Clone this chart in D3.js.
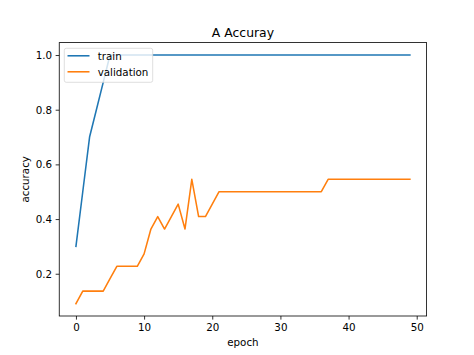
<!DOCTYPE html>
<html>
<head>
<meta charset="utf-8">
<script src="https://cdn.jsdelivr.net/npm/d3@7"></script>
<style>
  html, body { margin: 0; padding: 0; background: #fff; }
  svg { display: block; }
  text { font-family: "DejaVu Sans", sans-serif; fill: #000; }
</style>
</head>
<body>
<div id="chart"></div>
<script>
const epochs = d3.range(0, 50);
const trainAcc = [0.3, 0.5, 0.7, 0.8, 0.9].concat(d3.range(5, 50).map(() => 1.0));
const validationAcc = [
  0.0909, 0.1364, 0.1364, 0.1364, 0.1364, 0.1818, 0.2273, 0.2273, 0.2273, 0.2273,
  0.2727, 0.3636, 0.4091, 0.3636, 0.4091, 0.4545, 0.3636, 0.5455, 0.4091, 0.4091,
  0.4545, 0.5, 0.5, 0.5, 0.5, 0.5, 0.5, 0.5, 0.5, 0.5,
  0.5, 0.5, 0.5, 0.5, 0.5, 0.5, 0.5, 0.5455, 0.5455, 0.5455,
  0.5455, 0.5455, 0.5455, 0.5455, 0.5455, 0.5455, 0.5455, 0.5455, 0.5455, 0.5455
];
const xTicks = [0, 10, 20, 30, 40, 50];
const yTicks = [0.2, 0.4, 0.6, 0.8, 1.0];
const seriesNames = ["train", "validation"];
const seriesColors = ["#1f77b4", "#ff7f0e"];
const titleText = "A Accuray";
const xLabel = "epoch";
const yLabel = "accuracy";

const W = 474, H = 355;
const L = 59.25, R = 426.6, T = 42.6, B = 316;

const svg = d3.select("#chart").append("svg").attr("width", W).attr("height", H);

const all = trainAcc.concat(validationAcc);
const ymin = d3.min(all), ymax = d3.max(all);
const ypad = (ymax - ymin) * 0.05;
const xpad = 49 * 0.05;
const x = d3.scaleLinear().domain([0 - xpad, 49 + xpad]).range([L, R]);
const y = d3.scaleLinear().domain([ymin - ypad, ymax + ypad]).range([B, T]);

const line = d3.line().x((d, i) => x(epochs[i])).y(d => y(d));

const series = [trainAcc, validationAcc];
series.forEach((s, k) => {
  svg.append("path").datum(s)
    .attr("d", line)
    .attr("fill", "none")
    .attr("stroke", seriesColors[k])
    .attr("stroke-width", 1.55)
    .attr("stroke-linejoin", "round")
    .attr("stroke-linecap", "square");
});

// axes
const xAxis = d3.axisBottom(x).tickValues(xTicks).tickSize(3.6).tickPadding(3.6).tickFormat(d3.format("d"));
const yAxis = d3.axisLeft(y).tickValues(yTicks).tickSize(3.6).tickPadding(3.6).tickFormat(d3.format(".1f"));

const gx = svg.append("g").attr("transform", `translate(0,${B})`).call(xAxis);
const gy = svg.append("g").attr("transform", `translate(${L},0)`).call(yAxis);
[gx, gy].forEach(g => {
  g.select(".domain").remove();
  g.selectAll(".tick line").attr("stroke", "#000").attr("stroke-width", 0.8);
  g.selectAll(".tick text").style("font-family", "DejaVu Sans").style("font-size", "10.3px").attr("fill", "#000");
});

// spines
svg.append("rect").attr("x", L).attr("y", T).attr("width", R - L).attr("height", B - T)
  .attr("fill", "none").attr("stroke", "#000").attr("stroke-width", 0.8);

// title and labels
svg.append("text").attr("x", (L + R) / 2).attr("y", 36.5).attr("text-anchor", "middle")
  .style("font-size", "12.4px").text(titleText);
svg.append("text").attr("x", (L + R) / 2).attr("y", 345.5).attr("text-anchor", "middle")
  .style("font-size", "10.3px").text(xLabel);
svg.append("text").attr("transform", `translate(29,${(T + B) / 2}) rotate(-90)`).attr("text-anchor", "middle")
  .style("font-size", "10.3px").text(yLabel);

// legend
const lg = svg.append("g");
lg.append("rect").attr("x", 64.3).attr("y", 48.3).attr("width", 88.4).attr("height", 34)
  .attr("rx", 2).attr("fill", "#fff").attr("fill-opacity", 0.8)
  .attr("stroke", "#d5d5d5").attr("stroke-width", 0.8);
seriesNames.forEach((n, k) => {
  const cy = 55.8 + k * 16;
  lg.append("line").attr("x1", 67.5).attr("x2", 89.5).attr("y1", cy).attr("y2", cy)
    .attr("stroke", seriesColors[k]).attr("stroke-width", 1.55);
  lg.append("text").attr("x", 97.7).attr("y", cy + 3.7).style("font-size", "10.3px").text(n);
});
</script>
</body>
</html>
